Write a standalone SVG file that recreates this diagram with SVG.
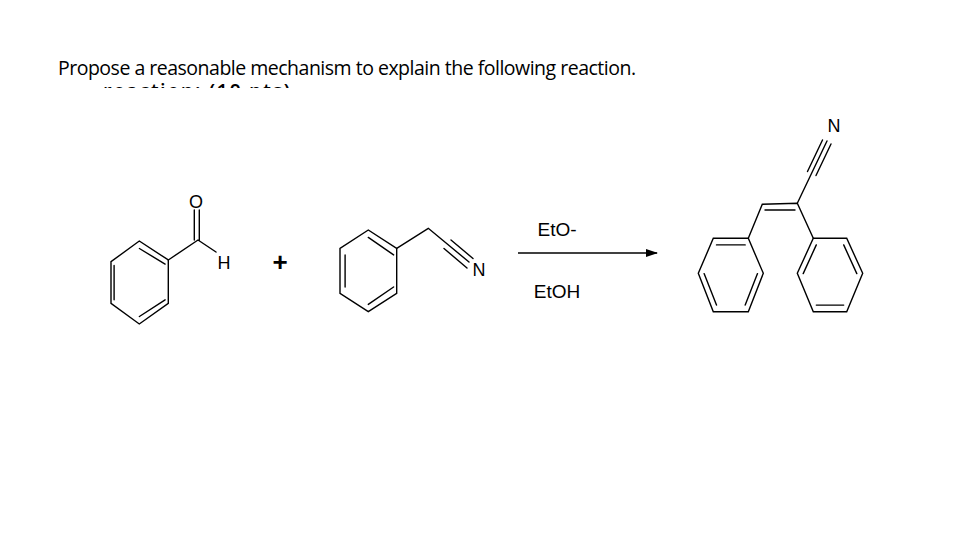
<svg xmlns="http://www.w3.org/2000/svg" width="966" height="554" viewBox="0 0 966 554">
<style>
.b{stroke:#000;stroke-width:1.4;fill:none;stroke-linecap:round}
.t{font-family:"Liberation Sans",Arial,sans-serif;fill:#000}
.h{font-family:"Open Sans","Liberation Sans",sans-serif;fill:#000}
</style>
<defs>
<clipPath id="cl"><rect x="90" y="82" width="220" height="6"/></clipPath>
<marker id="ah" markerWidth="12" markerHeight="8" refX="11" refY="4" orient="auto" markerUnits="userSpaceOnUse"><path d="M0,0 L12,4 L0,8 Z" fill="#000"/></marker>
</defs>
<rect width="966" height="554" fill="#fff"/>
<text class="h" x="103" y="98" font-size="20" font-weight="600" clip-path="url(#cl)" textLength="187">reaction: (10 pts)</text>
<text class="h" x="58" y="75" font-size="19.5" font-weight="500" textLength="578">Propose a reasonable mechanism to explain the following reaction.</text>
<g id="benzaldehyde">
<path class="b" d="M139.3,241 L168.3,260 L168.3,303.3 L139.3,324 L111,303.3 L111,261.7 Z"/>
<path class="b" d="M139.4,248.5 L165.1,264.1 M165.1,299.8 L139.4,316.5 M114.1,299.8 L114.1,265.4"/>
<path class="b" d="M168.3,260 L198,240 L216,252 M194.3,210 L194.3,240 M199.3,210 L199.3,240"/>
<text class="t" x="196" y="208" font-size="18" text-anchor="middle">O</text>
<text class="t" x="224" y="269" font-size="18" text-anchor="middle">H</text>
</g>
<g id="plus"><text class="t" x="280" y="271" font-size="26" font-weight="bold" text-anchor="middle">+</text></g>
<g id="phenylacetonitrile">
<path class="b" d="M368.3,230 L396.7,248.3 L396.7,293.3 L368.3,311.7 L340,293.3 L340,248.3 Z"/>
<path class="b" d="M368.3,237.4 L393.6,254.9 M393.6,287 L368.3,304.4 M345.1,287 L345.1,254.9"/>
<path class="b" d="M396.7,248.3 L428.3,228.3 L469,262 M444,248.5 L467,268 M451,240 L473,258.5"/>
<text class="t" x="479" y="276" font-size="18" text-anchor="middle">N</text>
</g>
<g id="conditions">
<text class="t" x="557" y="236" font-size="19" text-anchor="middle">EtO-</text>
<text class="t" x="557" y="298" font-size="19" text-anchor="middle">EtOH</text>
</g>
<g id="connectors">
<line x1="518" y1="253" x2="657" y2="253" stroke="#000" stroke-width="1.4" marker-end="url(#ah)"/>
</g>
<g id="product">
<path class="b" d="M713.3,238.3 L748.3,238.3 L763.3,273.3 L748.3,311.7 L713.3,311.7 L698.3,273.3 Z"/>
<path class="b" d="M716.5,244.9 L745.2,244.9 M757.5,273.6 L745.2,305.1 M716.5,305.1 L704.1,273.6"/>
<path class="b" d="M813.3,238.3 L846.7,238.3 L862.7,273.3 L846.7,311.7 L813.3,311.7 L797.3,273.3 Z"/>
<path class="b" d="M843.7,244.9 L856.8,273.6 M843.7,305.1 L816.3,305.1 M803.2,273.6 L816.3,244.9"/>
<path class="b" d="M748.3,238.3 L762.3,204.3 L797.3,203.3 L813.3,238.3 M765,210 L795,210"/>
<path class="b" d="M797.3,203.3 L827,141 M816,175.5 L831,144 M807.5,171.5 L822.5,140"/>
<text class="t" x="834" y="132" font-size="18" text-anchor="middle">N</text>
</g>
</svg>
